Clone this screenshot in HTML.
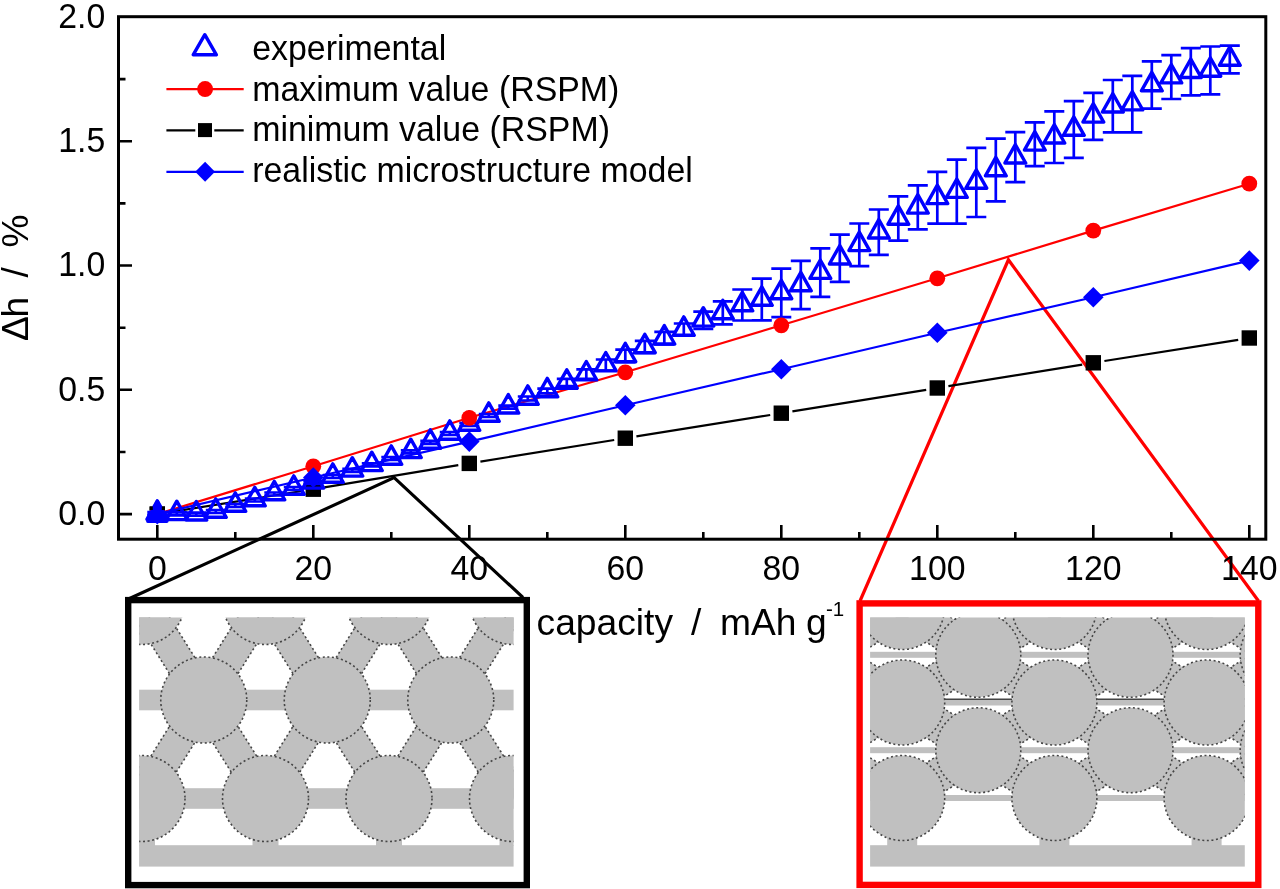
<!DOCTYPE html>
<html><head><meta charset="utf-8"><title>chart</title>
<style>html,body{margin:0;padding:0;background:#fff;width:1280px;height:889px;overflow:hidden;position:relative}</style>
</head><body>
<svg width="1280" height="889" viewBox="0 0 1280 889" style="position:absolute;left:0;top:0;filter:blur(0.5px)">
<rect width="1280" height="889" fill="#fff"/>
<defs>
<clipPath id="cb"><rect x="139.1" y="617.5" width="374.5" height="249.3"/></clipPath>
<clipPath id="cr"><rect x="870.1" y="617.5" width="374.7" height="249.3"/></clipPath>
</defs>
<g clip-path="url(#cb)"><polygon points="129.3,593.5 67.5,692.0 93.0,708.0 154.7,609.5" fill="#c0c0c0"/><path d="M129.3 593.5L67.5 692.0M154.7 609.5L93.0 708.0" fill="none" stroke="#454545" stroke-width="1.6" stroke-dasharray="2 2.6"/><polygon points="129.3,609.5 191.0,708.0 216.5,692.0 154.7,593.5" fill="#c0c0c0"/><path d="M129.3 609.5L191.0 708.0M154.7 593.5L216.5 692.0" fill="none" stroke="#454545" stroke-width="1.6" stroke-dasharray="2 2.6"/><polygon points="252.8,593.5 191.0,692.0 216.5,708.0 278.2,609.5" fill="#c0c0c0"/><path d="M252.8 593.5L191.0 692.0M278.2 609.5L216.5 708.0" fill="none" stroke="#454545" stroke-width="1.6" stroke-dasharray="2 2.6"/><polygon points="252.8,609.5 314.5,708.0 340.0,692.0 278.2,593.5" fill="#c0c0c0"/><path d="M252.8 609.5L314.5 708.0M278.2 593.5L340.0 692.0" fill="none" stroke="#454545" stroke-width="1.6" stroke-dasharray="2 2.6"/><polygon points="376.3,593.5 314.5,692.0 340.0,708.0 401.7,609.5" fill="#c0c0c0"/><path d="M376.3 593.5L314.5 692.0M401.7 609.5L340.0 708.0" fill="none" stroke="#454545" stroke-width="1.6" stroke-dasharray="2 2.6"/><polygon points="376.3,609.5 438.0,708.0 463.5,692.0 401.7,593.5" fill="#c0c0c0"/><path d="M376.3 609.5L438.0 708.0M401.7 593.5L463.5 692.0" fill="none" stroke="#454545" stroke-width="1.6" stroke-dasharray="2 2.6"/><polygon points="499.8,593.5 438.0,692.0 463.5,708.0 525.2,609.5" fill="#c0c0c0"/><path d="M499.8 593.5L438.0 692.0M525.2 609.5L463.5 708.0" fill="none" stroke="#454545" stroke-width="1.6" stroke-dasharray="2 2.6"/><polygon points="499.8,609.5 561.5,708.0 587.0,692.0 525.2,593.5" fill="#c0c0c0"/><path d="M499.8 609.5L561.5 708.0M525.2 593.5L587.0 692.0" fill="none" stroke="#454545" stroke-width="1.6" stroke-dasharray="2 2.6"/><polygon points="67.5,708.0 129.3,806.5 154.7,790.5 93.0,692.0" fill="#c0c0c0"/><path d="M67.5 708.0L129.3 806.5M93.0 692.0L154.7 790.5" fill="none" stroke="#454545" stroke-width="1.6" stroke-dasharray="2 2.6"/><polygon points="191.0,692.0 129.3,790.5 154.7,806.5 216.5,708.0" fill="#c0c0c0"/><path d="M191.0 692.0L129.3 790.5M216.5 708.0L154.7 806.5" fill="none" stroke="#454545" stroke-width="1.6" stroke-dasharray="2 2.6"/><polygon points="191.0,708.0 252.8,806.5 278.2,790.5 216.5,692.0" fill="#c0c0c0"/><path d="M191.0 708.0L252.8 806.5M216.5 692.0L278.2 790.5" fill="none" stroke="#454545" stroke-width="1.6" stroke-dasharray="2 2.6"/><polygon points="314.5,692.0 252.8,790.5 278.2,806.5 340.0,708.0" fill="#c0c0c0"/><path d="M314.5 692.0L252.8 790.5M340.0 708.0L278.2 806.5" fill="none" stroke="#454545" stroke-width="1.6" stroke-dasharray="2 2.6"/><polygon points="314.5,708.0 376.3,806.5 401.7,790.5 340.0,692.0" fill="#c0c0c0"/><path d="M314.5 708.0L376.3 806.5M340.0 692.0L401.7 790.5" fill="none" stroke="#454545" stroke-width="1.6" stroke-dasharray="2 2.6"/><polygon points="438.0,692.0 376.3,790.5 401.7,806.5 463.5,708.0" fill="#c0c0c0"/><path d="M438.0 692.0L376.3 790.5M463.5 708.0L401.7 806.5" fill="none" stroke="#454545" stroke-width="1.6" stroke-dasharray="2 2.6"/><polygon points="438.0,708.0 499.8,806.5 525.2,790.5 463.5,692.0" fill="#c0c0c0"/><path d="M438.0 708.0L499.8 806.5M463.5 692.0L525.2 790.5" fill="none" stroke="#454545" stroke-width="1.6" stroke-dasharray="2 2.6"/><polygon points="561.5,692.0 499.8,790.5 525.2,806.5 587.0,708.0" fill="#c0c0c0"/><path d="M561.5 692.0L499.8 790.5M587.0 708.0L525.2 806.5" fill="none" stroke="#454545" stroke-width="1.6" stroke-dasharray="2 2.6"/><rect x="130" y="689.7" width="400" height="20.6" fill="#c0c0c0"/><rect x="130" y="788.2" width="400" height="20.6" fill="#c0c0c0"/><rect x="130" y="845.2" width="400" height="21.6" fill="#c0c0c0"/><rect x="129.0" y="830" width="26" height="16" fill="#c0c0c0"/><rect x="252.5" y="830" width="26" height="16" fill="#c0c0c0"/><rect x="376.0" y="830" width="26" height="16" fill="#c0c0c0"/><rect x="499.5" y="830" width="26" height="16" fill="#c0c0c0"/><circle cx="142" cy="601.5" r="43" fill="#c0c0c0" stroke="#454545" stroke-width="1.6" stroke-dasharray="2 2.6"/><circle cx="265.5" cy="601.5" r="43" fill="#c0c0c0" stroke="#454545" stroke-width="1.6" stroke-dasharray="2 2.6"/><circle cx="389" cy="601.5" r="43" fill="#c0c0c0" stroke="#454545" stroke-width="1.6" stroke-dasharray="2 2.6"/><circle cx="512.5" cy="601.5" r="43" fill="#c0c0c0" stroke="#454545" stroke-width="1.6" stroke-dasharray="2 2.6"/><circle cx="80.25" cy="700" r="43" fill="#c0c0c0" stroke="#454545" stroke-width="1.6" stroke-dasharray="2 2.6"/><circle cx="203.75" cy="700" r="43" fill="#c0c0c0" stroke="#454545" stroke-width="1.6" stroke-dasharray="2 2.6"/><circle cx="327.25" cy="700" r="43" fill="#c0c0c0" stroke="#454545" stroke-width="1.6" stroke-dasharray="2 2.6"/><circle cx="450.75" cy="700" r="43" fill="#c0c0c0" stroke="#454545" stroke-width="1.6" stroke-dasharray="2 2.6"/><circle cx="574.25" cy="700" r="43" fill="#c0c0c0" stroke="#454545" stroke-width="1.6" stroke-dasharray="2 2.6"/><circle cx="142" cy="798.5" r="43" fill="#c0c0c0" stroke="#454545" stroke-width="1.6" stroke-dasharray="2 2.6"/><circle cx="265.5" cy="798.5" r="43" fill="#c0c0c0" stroke="#454545" stroke-width="1.6" stroke-dasharray="2 2.6"/><circle cx="389" cy="798.5" r="43" fill="#c0c0c0" stroke="#454545" stroke-width="1.6" stroke-dasharray="2 2.6"/><circle cx="512.5" cy="798.5" r="43" fill="#c0c0c0" stroke="#454545" stroke-width="1.6" stroke-dasharray="2 2.6"/></g>
<g clip-path="url(#cr)"><polygon points="835.1,669.2 911.2,621.4 893.2,592.6 817.1,640.3" fill="#c0c0c0"/><path d="M835.1 669.2L911.2 621.4M817.1 640.3L893.2 592.6" fill="none" stroke="#454545" stroke-width="1.6" stroke-dasharray="2 2.6"/><polygon points="817.1,669.2 893.2,716.9 911.2,688.1 835.1,640.3" fill="#c0c0c0"/><path d="M817.1 669.2L893.2 716.9M835.1 640.3L911.2 688.1" fill="none" stroke="#454545" stroke-width="1.6" stroke-dasharray="2 2.6"/><polygon points="835.1,764.7 911.2,716.9 893.2,688.1 817.1,735.8" fill="#c0c0c0"/><path d="M835.1 764.7L911.2 716.9M817.1 735.8L893.2 688.1" fill="none" stroke="#454545" stroke-width="1.6" stroke-dasharray="2 2.6"/><polygon points="817.1,764.7 893.2,812.4 911.2,783.6 835.1,735.8" fill="#c0c0c0"/><path d="M817.1 764.7L893.2 812.4M835.1 735.8L911.2 783.6" fill="none" stroke="#454545" stroke-width="1.6" stroke-dasharray="2 2.6"/><polygon points="893.2,621.4 969.3,669.2 987.3,640.3 911.2,592.6" fill="#c0c0c0"/><path d="M893.2 621.4L969.3 669.2M911.2 592.6L987.3 640.3" fill="none" stroke="#454545" stroke-width="1.6" stroke-dasharray="2 2.6"/><polygon points="911.2,716.9 987.3,669.2 969.3,640.3 893.2,688.1" fill="#c0c0c0"/><path d="M911.2 716.9L987.3 669.2M893.2 688.1L969.3 640.3" fill="none" stroke="#454545" stroke-width="1.6" stroke-dasharray="2 2.6"/><polygon points="893.2,716.9 969.3,764.7 987.3,735.8 911.2,688.1" fill="#c0c0c0"/><path d="M893.2 716.9L969.3 764.7M911.2 688.1L987.3 735.8" fill="none" stroke="#454545" stroke-width="1.6" stroke-dasharray="2 2.6"/><polygon points="911.2,812.4 987.3,764.7 969.3,735.8 893.2,783.6" fill="#c0c0c0"/><path d="M911.2 812.4L987.3 764.7M893.2 783.6L969.3 735.8" fill="none" stroke="#454545" stroke-width="1.6" stroke-dasharray="2 2.6"/><polygon points="987.3,669.2 1063.4,621.4 1045.4,592.6 969.3,640.3" fill="#c0c0c0"/><path d="M987.3 669.2L1063.4 621.4M969.3 640.3L1045.4 592.6" fill="none" stroke="#454545" stroke-width="1.6" stroke-dasharray="2 2.6"/><polygon points="969.3,669.2 1045.4,716.9 1063.4,688.1 987.3,640.3" fill="#c0c0c0"/><path d="M969.3 669.2L1045.4 716.9M987.3 640.3L1063.4 688.1" fill="none" stroke="#454545" stroke-width="1.6" stroke-dasharray="2 2.6"/><polygon points="987.3,764.7 1063.4,716.9 1045.4,688.1 969.3,735.8" fill="#c0c0c0"/><path d="M987.3 764.7L1063.4 716.9M969.3 735.8L1045.4 688.1" fill="none" stroke="#454545" stroke-width="1.6" stroke-dasharray="2 2.6"/><polygon points="969.3,764.7 1045.4,812.4 1063.4,783.6 987.3,735.8" fill="#c0c0c0"/><path d="M969.3 764.7L1045.4 812.4M987.3 735.8L1063.4 783.6" fill="none" stroke="#454545" stroke-width="1.6" stroke-dasharray="2 2.6"/><polygon points="1045.4,621.4 1121.5,669.2 1139.5,640.3 1063.4,592.6" fill="#c0c0c0"/><path d="M1045.4 621.4L1121.5 669.2M1063.4 592.6L1139.5 640.3" fill="none" stroke="#454545" stroke-width="1.6" stroke-dasharray="2 2.6"/><polygon points="1063.4,716.9 1139.5,669.2 1121.5,640.3 1045.4,688.1" fill="#c0c0c0"/><path d="M1063.4 716.9L1139.5 669.2M1045.4 688.1L1121.5 640.3" fill="none" stroke="#454545" stroke-width="1.6" stroke-dasharray="2 2.6"/><polygon points="1045.4,716.9 1121.5,764.7 1139.5,735.8 1063.4,688.1" fill="#c0c0c0"/><path d="M1045.4 716.9L1121.5 764.7M1063.4 688.1L1139.5 735.8" fill="none" stroke="#454545" stroke-width="1.6" stroke-dasharray="2 2.6"/><polygon points="1063.4,812.4 1139.5,764.7 1121.5,735.8 1045.4,783.6" fill="#c0c0c0"/><path d="M1063.4 812.4L1139.5 764.7M1045.4 783.6L1121.5 735.8" fill="none" stroke="#454545" stroke-width="1.6" stroke-dasharray="2 2.6"/><polygon points="1139.5,669.2 1215.6,621.4 1197.6,592.6 1121.5,640.3" fill="#c0c0c0"/><path d="M1139.5 669.2L1215.6 621.4M1121.5 640.3L1197.6 592.6" fill="none" stroke="#454545" stroke-width="1.6" stroke-dasharray="2 2.6"/><polygon points="1121.5,669.2 1197.6,716.9 1215.6,688.1 1139.5,640.3" fill="#c0c0c0"/><path d="M1121.5 669.2L1197.6 716.9M1139.5 640.3L1215.6 688.1" fill="none" stroke="#454545" stroke-width="1.6" stroke-dasharray="2 2.6"/><polygon points="1139.5,764.7 1215.6,716.9 1197.6,688.1 1121.5,735.8" fill="#c0c0c0"/><path d="M1139.5 764.7L1215.6 716.9M1121.5 735.8L1197.6 688.1" fill="none" stroke="#454545" stroke-width="1.6" stroke-dasharray="2 2.6"/><polygon points="1121.5,764.7 1197.6,812.4 1215.6,783.6 1139.5,735.8" fill="#c0c0c0"/><path d="M1121.5 764.7L1197.6 812.4M1139.5 735.8L1215.6 783.6" fill="none" stroke="#454545" stroke-width="1.6" stroke-dasharray="2 2.6"/><polygon points="1197.6,621.4 1273.7,669.2 1291.7,640.3 1215.6,592.6" fill="#c0c0c0"/><path d="M1197.6 621.4L1273.7 669.2M1215.6 592.6L1291.7 640.3" fill="none" stroke="#454545" stroke-width="1.6" stroke-dasharray="2 2.6"/><polygon points="1215.6,716.9 1291.7,669.2 1273.7,640.3 1197.6,688.1" fill="#c0c0c0"/><path d="M1215.6 716.9L1291.7 669.2M1197.6 688.1L1273.7 640.3" fill="none" stroke="#454545" stroke-width="1.6" stroke-dasharray="2 2.6"/><polygon points="1197.6,716.9 1273.7,764.7 1291.7,735.8 1215.6,688.1" fill="#c0c0c0"/><path d="M1197.6 716.9L1273.7 764.7M1215.6 688.1L1291.7 735.8" fill="none" stroke="#454545" stroke-width="1.6" stroke-dasharray="2 2.6"/><polygon points="1215.6,812.4 1291.7,764.7 1273.7,735.8 1197.6,783.6" fill="#c0c0c0"/><path d="M1215.6 812.4L1291.7 764.7M1197.6 783.6L1273.7 735.8" fill="none" stroke="#454545" stroke-width="1.6" stroke-dasharray="2 2.6"/><polygon points="1291.7,669.2 1367.8,621.4 1349.8,592.6 1273.7,640.3" fill="#c0c0c0"/><path d="M1291.7 669.2L1367.8 621.4M1273.7 640.3L1349.8 592.6" fill="none" stroke="#454545" stroke-width="1.6" stroke-dasharray="2 2.6"/><polygon points="1273.7,669.2 1349.8,716.9 1367.8,688.1 1291.7,640.3" fill="#c0c0c0"/><path d="M1273.7 669.2L1349.8 716.9M1291.7 640.3L1367.8 688.1" fill="none" stroke="#454545" stroke-width="1.6" stroke-dasharray="2 2.6"/><polygon points="1291.7,764.7 1367.8,716.9 1349.8,688.1 1273.7,735.8" fill="#c0c0c0"/><path d="M1291.7 764.7L1367.8 716.9M1273.7 735.8L1349.8 688.1" fill="none" stroke="#454545" stroke-width="1.6" stroke-dasharray="2 2.6"/><polygon points="1273.7,764.7 1349.8,812.4 1367.8,783.6 1291.7,735.8" fill="#c0c0c0"/><path d="M1273.7 764.7L1349.8 812.4M1291.7 735.8L1367.8 783.6" fill="none" stroke="#454545" stroke-width="1.6" stroke-dasharray="2 2.6"/><rect x="860" y="604.0" width="400" height="6" fill="#c0c0c0"/><rect x="860" y="651.8" width="400" height="6" fill="#c0c0c0"/><rect x="860" y="699.5" width="400" height="6" fill="#c0c0c0"/><rect x="860" y="747.2" width="400" height="6" fill="#c0c0c0"/><rect x="860" y="795.0" width="400" height="6" fill="#c0c0c0"/><rect x="860" y="845.2" width="400" height="21.6" fill="#c0c0c0"/><rect x="887.2" y="832" width="30" height="14" fill="#c0c0c0"/><rect x="1039.4" y="832" width="30" height="14" fill="#c0c0c0"/><rect x="1191.6" y="832" width="30" height="14" fill="#c0c0c0"/><path d="M945 699.2H1012M1097.2 699.2H1164.2" stroke="#444" stroke-width="1.6"/><circle cx="826.1" cy="654.8" r="42.5" fill="#c0c0c0" stroke="#454545" stroke-width="1.6" stroke-dasharray="2 2.6"/><circle cx="826.1" cy="750.2" r="42.5" fill="#c0c0c0" stroke="#454545" stroke-width="1.6" stroke-dasharray="2 2.6"/><circle cx="902.2" cy="607.0" r="42.5" fill="#c0c0c0" stroke="#454545" stroke-width="1.6" stroke-dasharray="2 2.6"/><circle cx="902.2" cy="702.5" r="42.5" fill="#c0c0c0" stroke="#454545" stroke-width="1.6" stroke-dasharray="2 2.6"/><circle cx="902.2" cy="798.0" r="42.5" fill="#c0c0c0" stroke="#454545" stroke-width="1.6" stroke-dasharray="2 2.6"/><circle cx="978.3" cy="654.8" r="42.5" fill="#c0c0c0" stroke="#454545" stroke-width="1.6" stroke-dasharray="2 2.6"/><circle cx="978.3" cy="750.2" r="42.5" fill="#c0c0c0" stroke="#454545" stroke-width="1.6" stroke-dasharray="2 2.6"/><circle cx="1054.4" cy="607.0" r="42.5" fill="#c0c0c0" stroke="#454545" stroke-width="1.6" stroke-dasharray="2 2.6"/><circle cx="1054.4" cy="702.5" r="42.5" fill="#c0c0c0" stroke="#454545" stroke-width="1.6" stroke-dasharray="2 2.6"/><circle cx="1054.4" cy="798.0" r="42.5" fill="#c0c0c0" stroke="#454545" stroke-width="1.6" stroke-dasharray="2 2.6"/><circle cx="1130.5" cy="654.8" r="42.5" fill="#c0c0c0" stroke="#454545" stroke-width="1.6" stroke-dasharray="2 2.6"/><circle cx="1130.5" cy="750.2" r="42.5" fill="#c0c0c0" stroke="#454545" stroke-width="1.6" stroke-dasharray="2 2.6"/><circle cx="1206.6" cy="607.0" r="42.5" fill="#c0c0c0" stroke="#454545" stroke-width="1.6" stroke-dasharray="2 2.6"/><circle cx="1206.6" cy="702.5" r="42.5" fill="#c0c0c0" stroke="#454545" stroke-width="1.6" stroke-dasharray="2 2.6"/><circle cx="1206.6" cy="798.0" r="42.5" fill="#c0c0c0" stroke="#454545" stroke-width="1.6" stroke-dasharray="2 2.6"/><circle cx="1282.7" cy="654.8" r="42.5" fill="#c0c0c0" stroke="#454545" stroke-width="1.6" stroke-dasharray="2 2.6"/><circle cx="1282.7" cy="750.2" r="42.5" fill="#c0c0c0" stroke="#454545" stroke-width="1.6" stroke-dasharray="2 2.6"/><circle cx="1358.8" cy="607.0" r="42.5" fill="#c0c0c0" stroke="#454545" stroke-width="1.6" stroke-dasharray="2 2.6"/><circle cx="1358.8" cy="702.5" r="42.5" fill="#c0c0c0" stroke="#454545" stroke-width="1.6" stroke-dasharray="2 2.6"/><circle cx="1358.8" cy="798.0" r="42.5" fill="#c0c0c0" stroke="#454545" stroke-width="1.6" stroke-dasharray="2 2.6"/></g>
<rect x="128.2" y="600.1" width="398.6" height="285" fill="none" stroke="#000" stroke-width="6.4"/>
<rect x="859.6" y="603.4" width="398.7" height="281.5" fill="none" stroke="#ff0000" stroke-width="6.4"/>
<polyline points="129.5,598.5 394.1,477.7 523,597.5" fill="none" stroke="#000" stroke-width="3.1" stroke-linejoin="miter"/>
<polyline points="860,601 1008.4,259.8 1258.5,601" fill="none" stroke="#ff0000" stroke-width="3.2"/>
<rect x="118.5" y="16.7" width="1147.3" height="522.5" fill="none" stroke="#000" stroke-width="3"/>
<path d="M157.3 539.2V525M313.3 539.2V525M469.3 539.2V525M625.3 539.2V525M781.3 539.2V525M937.3 539.2V525M1093.3 539.2V525M1249.3 539.2V525M235.3 539.2V532M391.3 539.2V532M547.3 539.2V532M703.3 539.2V532M859.3 539.2V532M1015.3 539.2V532M1171.3 539.2V532M118.5 514.1H132M118.5 389.8H132M118.5 265.5H132M118.5 141.2H132M118.5 452.0H125.5M118.5 327.7H125.5M118.5 203.4H125.5M118.5 79.1H125.5" stroke="#000" stroke-width="2.6" fill="none"/>
<g font-family='"Liberation Sans", sans-serif' font-size="33.8" fill="#000"><text transform="translate(157.3,579.8) scale(1,1.04)" text-anchor="middle">0</text><text transform="translate(313.3,579.8) scale(1,1.04)" text-anchor="middle">20</text><text transform="translate(469.3,579.8) scale(1,1.04)" text-anchor="middle">40</text><text transform="translate(625.3,579.8) scale(1,1.04)" text-anchor="middle">60</text><text transform="translate(781.3,579.8) scale(1,1.04)" text-anchor="middle">80</text><text transform="translate(937.3,579.8) scale(1,1.04)" text-anchor="middle">100</text><text transform="translate(1093.3,579.8) scale(1,1.04)" text-anchor="middle">120</text><text transform="translate(1249.3,579.8) scale(1,1.04)" text-anchor="middle">140</text><text transform="translate(105.2,524.9) scale(1,1.04)" text-anchor="end">0.0</text><text transform="translate(105.2,400.6) scale(1,1.04)" text-anchor="end">0.5</text><text transform="translate(105.2,276.3) scale(1,1.04)" text-anchor="end">1.0</text><text transform="translate(105.2,152.0) scale(1,1.04)" text-anchor="end">1.5</text><text transform="translate(105.2,27.7) scale(1,1.04)" text-anchor="end">2.0</text></g>
<g font-family='"Liberation Sans", sans-serif' font-size="37.2"><text x="536.6" y="634.6">capacity</text><text x="691" y="634.6">/</text><text x="720" y="634.6">mAh</text><text x="806" y="634.6">g</text><text x="826" y="616.2" font-size="20.5">-1</text></g>
<g font-family='"Liberation Sans", sans-serif' font-size="37.2" transform="translate(28.2,0) rotate(-90)"><text x="-341" y="0">Δ</text><text x="-317.5" y="0">h</text><text x="-277.5" y="0">/</text><text x="-247.5" y="0">%</text></g>
<path d="M168.4 512.3L302.2 491.0M324.3 487.4L458.3 465.2M480.4 461.6L614.2 440.0M636.4 436.4L770.2 415.0M792.4 411.4L926.2 389.8M948.4 386.2L1082.2 364.6M1104.4 361.0L1238.2 339.8" stroke="#000" stroke-width="2.2" fill="none"/>
<path d="M157.3 514.1L313.3 466.3M313.3 466.3L469.3 417.8M469.3 417.8L625.3 372.3M625.3 372.3L781.3 325.3M781.3 325.3L937.3 278.3M937.3 278.3L1093.3 230.6M1093.3 230.6L1249.3 183.7" stroke="#ff0000" stroke-width="2.2" fill="none"/>
<path d="M157.3 514.1L313.3 477.5M313.3 477.5L469.3 441.6M469.3 441.6L625.3 405.3M625.3 405.3L781.3 369.2M781.3 369.2L937.3 332.8M937.3 332.8L1093.3 297.2M1093.3 297.2L1249.3 260.6" stroke="#0000ff" stroke-width="2.2" fill="none"/>
<rect x="149.6" y="506.4" width="15.4" height="15.4" fill="#000"/><rect x="305.6" y="481.5" width="15.4" height="15.4" fill="#000"/><rect x="461.6" y="455.7" width="15.4" height="15.4" fill="#000"/><rect x="617.6" y="430.5" width="15.4" height="15.4" fill="#000"/><rect x="773.6" y="405.5" width="15.4" height="15.4" fill="#000"/><rect x="929.6" y="380.3" width="15.4" height="15.4" fill="#000"/><rect x="1085.6" y="355.1" width="15.4" height="15.4" fill="#000"/><rect x="1241.6" y="330.3" width="15.4" height="15.4" fill="#000"/>
<path d="M157.3 512.0V515.0M147.3 512.0H167.3M147.3 515.0H167.3M176.8 512.3V515.3M166.8 512.3H186.8M166.8 515.3H186.8M196.3 512.7V515.7M186.3 512.7H206.3M186.3 515.7H206.3M215.8 510.0V513.0M205.8 510.0H225.8M205.8 513.0H225.8M235.3 504.0V507.0M225.3 504.0H245.3M225.3 507.0H245.3M254.8 498.5V501.5M244.8 498.5H264.8M244.8 501.5H264.8M274.3 492.5V495.5M264.3 492.5H284.3M264.3 495.5H284.3M293.8 487.0V490.0M283.8 487.0H303.8M283.8 490.0H303.8M313.3 480.8V483.8M303.3 480.8H323.3M303.3 483.8H323.3M332.8 475.0V478.0M322.8 475.0H342.8M322.8 478.0H342.8M352.3 468.8V471.8M342.3 468.8H362.3M342.3 471.8H362.3M371.8 463.3V466.3M361.8 463.3H381.8M361.8 466.3H381.8M391.3 457.0V460.0M381.3 457.0H401.3M381.3 460.0H401.3M410.8 450.3V453.3M400.8 450.3H420.8M400.8 453.3H420.8M430.3 440.9V443.9M420.3 440.9H440.3M420.3 443.9H440.3M449.8 432.0V435.0M439.8 432.0H459.8M439.8 435.0H459.8M469.3 423.0V426.0M459.3 423.0H479.3M459.3 426.0H479.3M488.8 414.0V417.0M478.8 414.0H498.8M478.8 417.0H498.8M508.3 405.7V408.7M498.3 405.7H518.3M498.3 408.7H518.3M527.8 396.5V400.5M517.8 396.5H537.8M517.8 400.5H537.8M547.3 388.7V393.3M537.3 388.7H557.3M537.3 393.3H557.3M566.8 378.8V386.0M556.8 378.8H576.8M556.8 386.0H576.8M586.3 369.4V378.8M576.3 369.4H596.3M576.3 378.8H596.3M605.8 359.5V370.7M595.8 359.5H615.8M595.8 370.7H615.8M625.3 349.6V362.2M615.3 349.6H635.3M615.3 362.2H635.3M644.8 340.9V352.9M634.8 340.9H654.8M634.8 352.9H654.8M664.3 331.9V344.5M654.3 331.9H674.3M654.3 344.5H674.3M683.8 323.5V335.5M673.8 323.5H693.8M673.8 335.5H693.8M703.3 311.6V329.0M693.3 311.6H713.3M693.3 329.0H713.3M722.8 301.4V324.4M712.8 301.4H732.8M712.8 324.4H732.8M742.3 289.5V320.5M732.3 289.5H752.3M732.3 320.5H752.3M761.8 278.6V320.4M751.8 278.6H771.8M751.8 320.4H771.8M781.3 268.7V317.1M771.3 268.7H791.3M771.3 317.1H791.3M800.8 260.8V309.2M790.8 260.8H810.8M790.8 309.2H810.8M820.3 248.4V296.8M810.3 248.4H830.3M810.3 296.8H830.3M839.8 234.6V281.8M829.8 234.6H849.8M829.8 281.8H849.8M859.3 223.5V266.1M849.3 223.5H869.3M849.3 266.1H869.3M878.8 209.5V254.9M868.8 209.5H888.8M868.8 254.9H888.8M898.3 196.3V240.7M888.3 196.3H908.3M888.3 240.7H908.3M917.8 185.3V229.3M907.8 185.3H927.8M907.8 229.3H927.8M937.3 171.9V223.7M927.3 171.9H947.3M927.3 223.7H947.3M956.8 159.6V223.6M946.8 159.6H966.8M946.8 223.6H966.8M976.3 147.8V217.0M966.3 147.8H986.3M966.3 217.0H986.3M995.8 138.7V201.3M985.8 138.7H1005.8M985.8 201.3H1005.8M1015.3 132.2V182.2M1005.3 132.2H1025.3M1005.3 182.2H1025.3M1034.8 122.4V166.2M1024.8 122.4H1044.8M1024.8 166.2H1044.8M1054.3 111.4V163.0M1044.3 111.4H1064.3M1044.3 163.0H1064.3M1073.8 101.2V157.8M1063.8 101.2H1083.8M1063.8 157.8H1083.8M1093.3 92.8V139.8M1083.3 92.8H1103.3M1083.3 139.8H1103.3M1112.8 80.0V132.4M1102.8 80.0H1122.8M1102.8 132.4H1122.8M1132.3 75.8V132.4M1122.3 75.8H1142.3M1122.3 132.4H1142.3M1151.8 61.4V108.6M1141.8 61.4H1161.8M1141.8 108.6H1161.8M1171.3 55.2V99.0M1161.3 55.2H1181.3M1161.3 99.0H1181.3M1190.8 48.1V95.3M1180.8 48.1H1200.8M1180.8 95.3H1200.8M1210.3 46.5V94.3M1200.3 46.5H1220.3M1200.3 94.3H1220.3M1229.8 45.7V73.3M1219.8 45.7H1239.8M1219.8 73.3H1239.8" stroke="#0000ff" stroke-width="2.7" fill="none"/>
<path d="M157.3 500.9L167.7 519.3H146.9ZM176.8 501.2L187.2 519.6H166.4ZM196.3 501.6L206.7 520.0H185.9ZM215.8 498.9L226.2 517.3H205.4ZM235.3 492.9L245.7 511.3H224.9ZM254.8 487.4L265.2 505.8H244.4ZM274.3 481.4L284.7 499.8H263.9ZM293.8 475.9L304.2 494.3H283.4ZM313.3 469.7L323.7 488.1H302.9ZM332.8 463.9L343.2 482.3H322.4ZM352.3 457.7L362.7 476.1H341.9ZM371.8 452.2L382.2 470.6H361.4ZM391.3 445.9L401.7 464.3H380.9ZM410.8 439.2L421.2 457.6H400.4ZM430.3 429.8L440.7 448.2H419.9ZM449.8 420.9L460.2 439.3H439.4ZM469.3 411.9L479.7 430.3H458.9ZM488.8 402.9L499.2 421.3H478.4ZM508.3 394.6L518.7 413.0H497.9ZM527.8 385.9L538.2 404.3H517.4ZM547.3 378.4L557.7 396.8H536.9ZM566.8 369.8L577.2 388.2H556.4ZM586.3 361.5L596.7 379.9H575.9ZM605.8 352.5L616.2 370.9H595.4ZM625.3 343.3L635.7 361.7H614.9ZM644.8 334.3L655.2 352.7H634.4ZM664.3 325.6L674.7 344.0H653.9ZM683.8 316.9L694.2 335.3H673.4ZM703.3 307.7L713.7 326.1H692.9ZM722.8 300.3L733.2 318.7H712.4ZM742.3 292.4L752.7 310.8H731.9ZM761.8 286.9L772.2 305.3H751.4ZM781.3 280.3L791.7 298.7H770.9ZM800.8 272.4L811.2 290.8H790.4ZM820.3 260.0L830.7 278.4H809.9ZM839.8 245.6L850.2 264.0H829.4ZM859.3 232.2L869.7 250.6H848.9ZM878.8 219.6L889.2 238.0H868.4ZM898.3 205.9L908.7 224.3H887.9ZM917.8 194.7L928.2 213.1H907.4ZM937.3 185.2L947.7 203.6H926.9ZM956.8 179.0L967.2 197.4H946.4ZM976.3 169.8L986.7 188.2H965.9ZM995.8 157.4L1006.2 175.8H985.4ZM1015.3 144.6L1025.7 163.0H1004.9ZM1034.8 131.7L1045.2 150.1H1024.4ZM1054.3 124.6L1064.7 143.0H1043.9ZM1073.8 116.9L1084.2 135.3H1063.4ZM1093.3 103.7L1103.7 122.1H1082.9ZM1112.8 93.6L1123.2 112.0H1102.4ZM1132.3 91.5L1142.7 109.9H1121.9ZM1151.8 72.4L1162.2 90.8H1141.4ZM1171.3 64.5L1181.7 82.9H1160.9ZM1190.8 59.1L1201.2 77.5H1180.4ZM1210.3 57.8L1220.7 76.2H1199.9ZM1229.8 46.9L1240.2 65.3H1219.4Z" stroke="#0000ff" stroke-width="3.4" fill="none" stroke-linejoin="round"/>
<circle cx="157.3" cy="514.1" r="7.9" fill="#ff0000"/><circle cx="313.3" cy="466.3" r="7.9" fill="#ff0000"/><circle cx="469.3" cy="417.8" r="7.9" fill="#ff0000"/><circle cx="625.3" cy="372.3" r="7.9" fill="#ff0000"/><circle cx="781.3" cy="325.3" r="7.9" fill="#ff0000"/><circle cx="937.3" cy="278.3" r="7.9" fill="#ff0000"/><circle cx="1093.3" cy="230.6" r="7.9" fill="#ff0000"/><circle cx="1249.3" cy="183.7" r="7.9" fill="#ff0000"/>
<path d="M157.3 503.8L167.6 514.1L157.3 524.4L147.0 514.1Z" fill="#0000ff"/><path d="M313.3 467.2L323.6 477.5L313.3 487.8L303.0 477.5Z" fill="#0000ff"/><path d="M469.3 431.3L479.6 441.6L469.3 451.9L459.0 441.6Z" fill="#0000ff"/><path d="M625.3 395.0L635.6 405.3L625.3 415.6L615.0 405.3Z" fill="#0000ff"/><path d="M781.3 358.9L791.6 369.2L781.3 379.5L771.0 369.2Z" fill="#0000ff"/><path d="M937.3 322.5L947.6 332.8L937.3 343.1L927.0 332.8Z" fill="#0000ff"/><path d="M1093.3 286.9L1103.6 297.2L1093.3 307.5L1083.0 297.2Z" fill="#0000ff"/><path d="M1249.3 250.3L1259.6 260.6L1249.3 270.9L1239.0 260.6Z" fill="#0000ff"/><path d="M157.3 501.1L166.9 521.3H147.7Z" stroke="#0000ff" stroke-width="3.2" fill="#0000ff" stroke-linejoin="round"/><path d="M149.6 506.4h3.2v3.5h-3.2zM161.8 506.4h3.2v3.5h-3.2z" fill="#000"/>
<g font-family='"Liberation Sans", sans-serif' font-size="33.9"><path d="M204.8 34.7L216.4 54.8H193.2Z" stroke="#0000ff" stroke-width="3.4" fill="none" stroke-linejoin="round"/><path d="M166.4 89.1H243.7" stroke="#ff0000" stroke-width="2.2"/><circle cx="205.1" cy="89.1" r="8" fill="#ff0000"/><path d="M166.4 130.3H195.3M214.3 130.3H243.7" stroke="#000" stroke-width="2.2"/><rect x="198" y="123.1" width="14" height="14" fill="#000"/><path d="M166.4 171.9H243.7" stroke="#0000ff" stroke-width="2.2"/><path d="M205.1 161.8L215 171.8L205.1 181.8L195.2 171.8Z" fill="#0000ff"/><text transform="translate(252.2,59.8) scale(1,1.025)">experimental</text><text transform="translate(252.2,100.5) scale(1,1.025)">maximum value (RSPM)</text><text transform="translate(252.2,141.3) scale(1,1.025)">minimum value (RSPM)</text><text transform="translate(252.2,181.7) scale(1,1.025)">realistic microstructure model</text></g>
</svg>
</body></html>
